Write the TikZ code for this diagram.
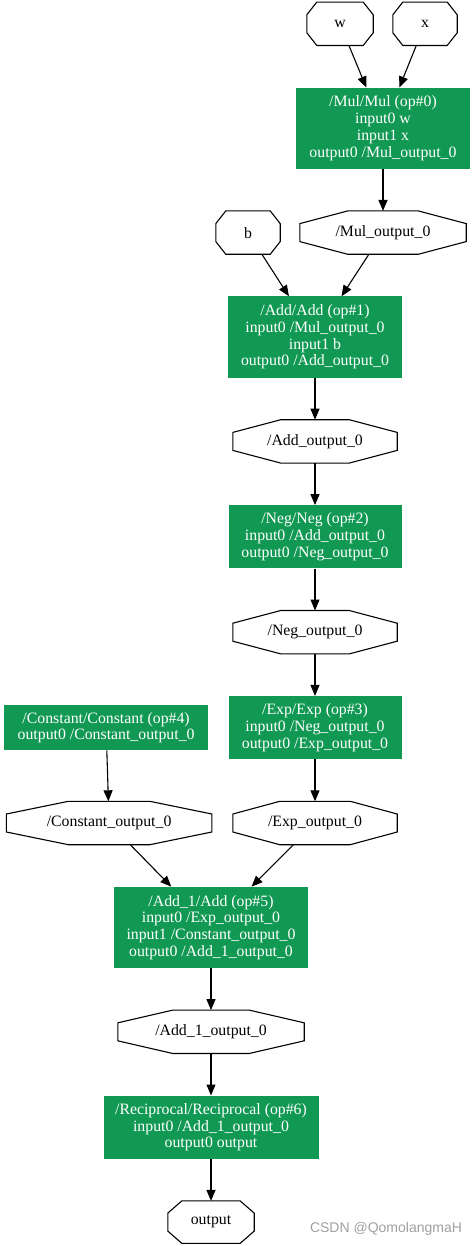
\documentclass[tikz,border=0pt]{standalone}
\usepackage{fontspec}
\setmainfont{Liberation Serif}
\setsansfont{Liberation Sans}
\usetikzlibrary{arrows.meta,positioning,calc}
\definecolor{opgreen}{RGB}{17,153,83}
\definecolor{markgray}{RGB}{160,160,160}

\begin{document}
\begin{tikzpicture}[
  x=1pt, y=-1pt,
  node distance=42pt and 21pt,
  op/.style={fill=opgreen,text=white,align=center,inner sep=0pt,font=\fontsize{15.8}{16.7}\selectfont},
  tensor/.style={align=center,inner sep=0pt,minimum height=43pt,font=\fontsize{15.8}{16.7}\selectfont},
  edge/.style={line width=1.1pt},
  >={Triangle[length=11pt,width=9pt]}
]
\useasboundingbox (0,0) rectangle (474,1246);

\node[op, minimum width=174pt, minimum height=81pt] (add) at (315,337) {/Add/Add (op\#1)\\input0 /Mul\_output\_0\\input1 b\\output0 /Add\_output\_0};
\node[tensor, minimum width=166pt, above=of add, xshift=68pt] (mulout) {/Mul\_output\_0};
\node[tensor, minimum width=64pt, above=of add, xshift=-67pt] (b) {b};
\node[op, minimum width=174pt, minimum height=81pt, above=of mulout] (mul) {/Mul/Mul (op\#0)\\input0 w\\input1 x\\output0 /Mul\_output\_0};
\node[tensor, minimum width=66pt, above=of mul, xshift=-43pt] (w) {w};
\node[tensor, minimum width=64pt, above=of mul, xshift=42pt] (x) {x};

\node[tensor, minimum width=164pt, below=of add] (addout) {/Add\_output\_0};
\node[op, minimum width=173pt, minimum height=63pt, below=of addout] (neg) {/Neg/Neg (op\#2)\\input0 /Add\_output\_0\\output0 /Neg\_output\_0};
\node[tensor, minimum width=164pt, below=of neg] (negout) {/Neg\_output\_0};
\node[op, minimum width=173pt, minimum height=63pt, below=of negout] (exp) {/Exp/Exp (op\#3)\\input0 /Neg\_output\_0\\output0 /Exp\_output\_0};
\node[tensor, minimum width=164pt, below=of exp] (expout) {/Exp\_output\_0};
\node[tensor, minimum width=205pt, left=of expout] (constout) {/Constant\_output\_0};
\node[op, minimum width=204pt, minimum height=45pt, xshift=-3pt] (const) at (constout |- exp) {/Constant/Constant (op\#4)\\output0 /Constant\_output\_0};

\node[op, minimum width=194pt, minimum height=81pt, below=of expout, xshift=-104pt] (add1) {/Add\_1/Add (op\#5)\\input0 /Exp\_output\_0\\input1 /Constant\_output\_0\\output0 /Add\_1\_output\_0};
\node[tensor, minimum width=186pt, below=of add1] (add1out) {/Add\_1\_output\_0};
\node[op, minimum width=215pt, minimum height=63pt, below=of add1out] (recip) {/Reciprocal/Reciprocal (op\#6)\\input0 /Add\_1\_output\_0\\output0 output};
\node[tensor, minimum width=86pt, minimum height=42pt, below=of recip] (output) {output};

\node[font=\sffamily\fontsize{14}{14}\selectfont, text=markgray] (mark) at (386,1229) {CSDN @QomolangmaH};

% octagon outlines of the tensors
\foreach \tn/\sl in {w/10,x/10,b/10,mulout/48,addout/48,negout/48,expout/47,constout/62,add1out/55,output/14}{
  \draw[edge] ($(\tn.north west)+(\sl,0)$) -- ($(\tn.north east)+(-\sl,0)$) -- ($(\tn.east)+(0,-9)$) -- ($(\tn.east)+(0,9)$)
    -- ($(\tn.south east)+(-\sl,0)$) -- ($(\tn.south west)+(\sl,0)$) -- ($(\tn.west)+(0,9)$) -- ($(\tn.west)+(0,-9)$) -- cycle;
}

\draw[edge,->] (w) -- (mul);
\draw[edge,->] (x) -- (mul);
\draw[edge,->] (mul) -- (mulout);
\draw[edge,->] (b) -- (add);
\draw[edge,->] (mulout) -- (add);
\draw[edge,->] (add) -- (addout);
\draw[edge,->] (addout) -- (neg);
\draw[edge,->] (neg) -- (negout);
\draw[edge,->] (negout) -- (exp);
\draw[edge,->] (exp) -- (expout);
\draw[edge,->] (const) -- (constout);
\draw[edge,->] (constout) -- (add1);
\draw[edge,->] (expout) -- (add1);
\draw[edge,->] (add1) -- (add1out);
\draw[edge,->] (add1out) -- (recip);
\draw[edge,->] (recip) -- (output);
\end{tikzpicture}
\end{document}
